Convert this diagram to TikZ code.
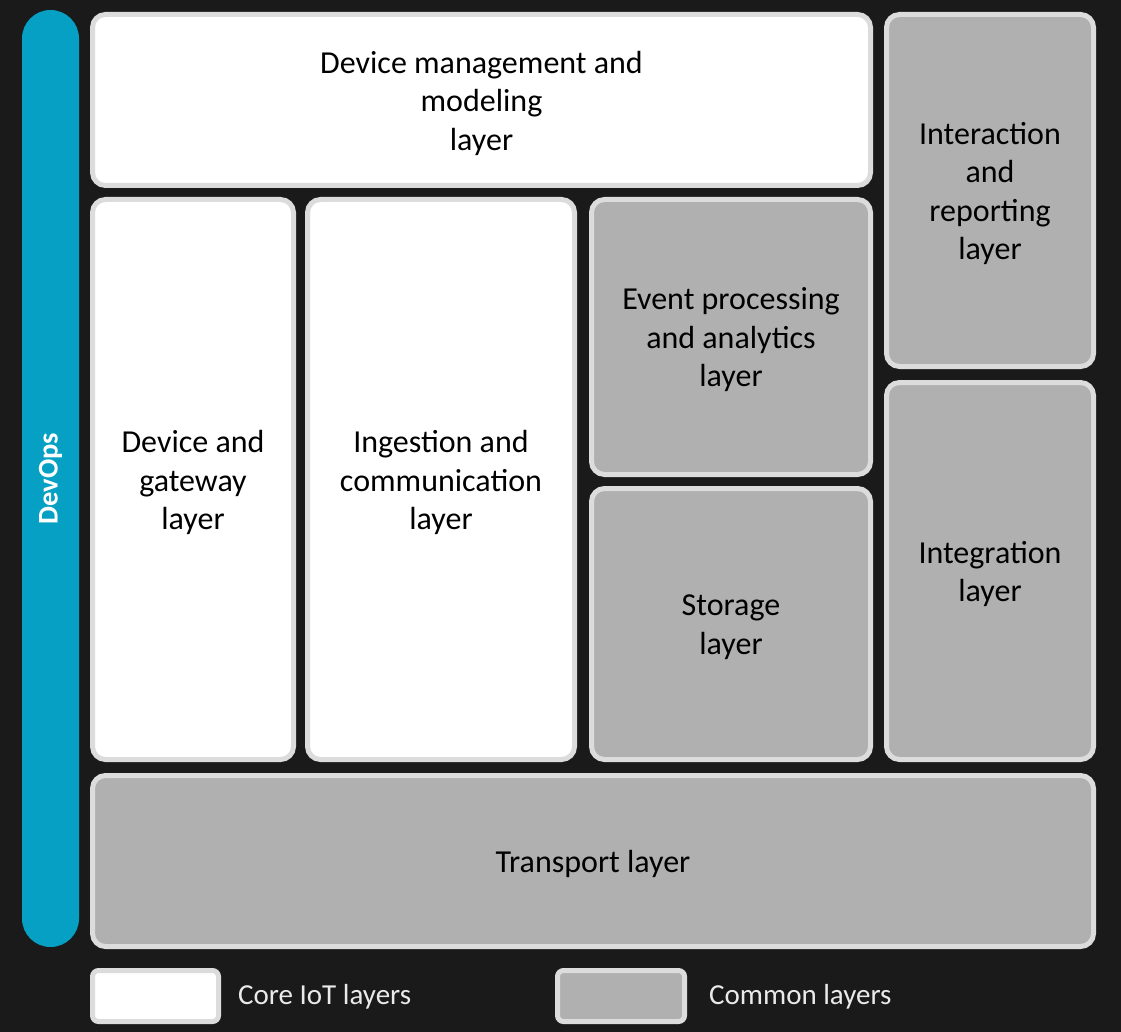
\documentclass[tikz,border=0pt]{standalone}
\usepackage{fontspec}
\setmainfont{Carlito}
\definecolor{bg}{HTML}{1A1A1A}
\definecolor{bordergray}{HTML}{DCDCDC}
\definecolor{fillgray}{HTML}{B0B0B0}
\definecolor{devops}{HTML}{06A0C4}
\definecolor{legendtext}{HTML}{EAEAEA}
\tikzset{
  layerbox/.style={draw=bordergray, line width=5pt, rounded corners=13pt, align=center,
    text=black, font=\fontsize{32}{38.5}\selectfont, inner sep=0pt},
  corebox/.style={layerbox, fill=white},
  commonbox/.style={layerbox, fill=fillgray},
  legendlabel/.style={text=legendtext, font=\fontsize{29}{34}\selectfont, anchor=west, inner sep=0pt},
  boxtext/.style={align=center, text=black, font=\fontsize{32}{38.5}\selectfont, inner sep=0pt},
}
\begin{document}
\begin{tikzpicture}[x=1pt,y=-1pt]
\fill[bg] (0,0) rectangle (1121,1032);
\useasboundingbox (0,0) rectangle (1121,1032);
% DevOps bar
\node[fill=devops, rounded corners=28.5pt, minimum width=57pt, minimum height=937pt, inner sep=0pt] (devops) at (50.5,478.5) {};
\node[rotate=90, text=white, font=\bfseries\fontsize{28.5}{34}\selectfont] (devopslabel) at (devops.center) {DevOps};
% Core layers
\node[corebox, minimum width=778pt, minimum height=171pt] (mgmt) at (481.5,100) {};
\node[corebox, minimum width=201pt, minimum height=560pt] (gateway) at (193,479.5) {};
\node[corebox, minimum width=267pt, minimum height=560pt] (ingest) at (441,479.5) {};
% Common layers
\node[commonbox, minimum width=279pt, minimum height=275pt] (event) at (731,337) {};
\node[commonbox, minimum width=279pt, minimum height=271pt] (storage) at (731,624) {};
\node[commonbox, minimum width=207pt, minimum height=352pt] (interact) at (990,190.5) {};
\node[commonbox, minimum width=207pt, minimum height=377pt] (integr) at (990,571) {};
\node[commonbox, minimum width=1001pt, minimum height=171pt] (transport) at (593,861) {};
% Texts
\node[boxtext] (mgmtlabel) at ([yshift=-3pt]mgmt.center) {Device management and\\modeling\\ layer};
\node[boxtext] (gatewaylabel) at ([yshift=-3pt]gateway.center) {Device and\\gateway\\layer};
\node[boxtext] (ingestlabel) at ([yshift=-3pt]ingest.center) {Ingestion and\\communication\\layer};
\node[boxtext] (eventlabel) at ([yshift=-3pt]event.center) {Event processing\\and analytics\\layer};
\node[boxtext] (storagelabel) at ([yshift=-3pt]storage.center) {Storage\\layer};
\node[boxtext] (interactlabel) at ([yshift=-3pt]interact.center) {Interaction\\and\\reporting\\layer};
\node[boxtext] (integrlabel) at ([yshift=-3pt]integr.center) {Integration\\layer};
\node[boxtext] (transportlabel) at ([yshift=-3pt]transport.center) {Transport layer};
% Legend
\node[corebox, rounded corners=6pt, minimum width=126pt, minimum height=51pt] (legcore) at (155.5,996) {};
\node[legendlabel] (legcorelabel) at (238,997) {Core IoT layers};
\node[commonbox, rounded corners=6pt, minimum width=127pt, minimum height=51pt] (legcommon) at (621,996) {};
\node[legendlabel] (legcommonlabel) at (709,997) {Common layers};
\end{tikzpicture}
\end{document}
